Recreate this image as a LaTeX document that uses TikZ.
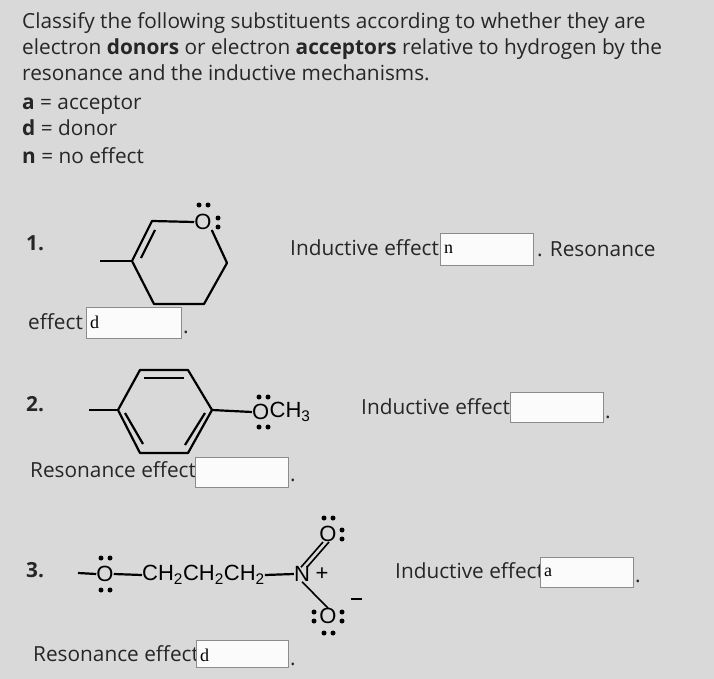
\documentclass[tikz,border=0pt]{standalone}
\usepackage{fontspec}
\usetikzlibrary{calc}
\setmainfont{Open Sans}
\newfontfamily\chemfont{Liberation Sans}
\newfontfamily\ansfont{Liberation Serif}
\begin{document}
\begin{tikzpicture}[x=1pt,y=-1pt,
  txt/.style={anchor=base west,inner sep=0pt,font=\fontsize{20.8}{24}\selectfont,text=black!85},
  chem/.style={inner sep=0pt,font=\chemfont\fontsize{22}{24}\selectfont},
  ansbox/.style={draw=black!45,line width=1.2pt,fill=white!85!black!10,inner sep=0pt},
  bond/.style={line width=2.2pt},
  lp/.style={fill=black,circle,inner sep=0pt,minimum size=5pt}]
\fill[black!15] (0,0) rectangle (714,679);
\useasboundingbox (0,0) rectangle (714,679);
\node[txt] (l1) at (22,29) {Classify the following substituents according to whether they are};
\node[txt] (l2) at (22,55) {electron \textbf{donors} or electron \textbf{acceptors} relative to hydrogen by the};
\node[txt] (l3) at (22,81) {resonance and the inductive mechanisms.};
\node[txt] (ka) at (22,110) {\textbf{a} = acceptor};
\node[txt] (kd) at (22,136) {\textbf{d} = donor};
\node[txt] (kn) at (22,164) {\textbf{n} = no effect};
% item 1
\node[txt] (n1) at (26,250) {\textbf{1.}};
\coordinate (a1) at (152,221); \coordinate (a2) at (132,261); \coordinate (a3) at (154,304);
\coordinate (a4) at (204,304); \coordinate (a5) at (227,263);
\node[chem] (o1) at (203,222) {O};
\coordinate (m1) at (100,261);
\draw[bond,line join=round] (o1.west) -- (a1) -- (a2) -- (a3) -- (a4) -- (a5) -- (o1.south east);
\draw[bond] (m1) -- (a2);
\draw[bond] ($(a1)!0.15!(a2)+(6,3)$) -- ($(a1)!0.85!(a2)+(6,3)$);
\node[lp] at (199,205) {}; \node[lp] at (208,205) {};
\node[lp] at (218,218) {}; \node[lp] at (218,227) {};
\node[txt] (ie1) at (290,255) {Inductive effect};
\node[ansbox,minimum width=93pt,minimum height=32pt,anchor=north west] (b1) at (440,233) {};
\node[anchor=west,font=\ansfont\fontsize{18}{20}\selectfont,inner sep=0pt] at (444,249) {n};
\node[txt] (res1) at (537,256) {. Resonance};
\node[txt] (ef1) at (28,329) {effect};
\node[ansbox,minimum width=95pt,minimum height=31pt,anchor=north west] (b2) at (86,307) {};
\node[anchor=west,font=\ansfont\fontsize{18}{20}\selectfont,inner sep=0pt] at (90,322) {d};
\node[txt] at (183,333) {.};
% item 2
\node[txt] (n2) at (26,411) {\textbf{2.}};
\coordinate (c1) at (140,370); \coordinate (c2) at (188,370); \coordinate (c3) at (212,410);
\coordinate (c4) at (188,453); \coordinate (c5) at (140,453); \coordinate (c6) at (118,410);
\draw[bond,line join=round] (c1)--(c2)--(c3)--(c4)--(c5)--(c6)--cycle;
\draw[bond] (144,378) -- (184,378);
\draw[bond] (125,413) -- (143,444);
\draw[bond] (205,413) -- (185,445);
\coordinate (m2) at (89,410);
\draw[bond] (m2) -- (c6);
\node[chem,anchor=west] (och) at (252,412) {O};
\node[chem,anchor=west] at (och.east) {CH\textsubscript{3}};
\draw[bond] (c3) -- (och.west);
\node[lp] at (259,397) {}; \node[lp] at (268,397) {};
\node[lp] at (259,427) {}; \node[lp] at (268,427) {};
\node[txt] (ie2) at (361,414) {Inductive effect};
\node[ansbox,minimum width=93pt,minimum height=30pt,anchor=north west] (b3) at (510,392) {};
\node[txt] at (605,418) {.};
\node[txt] (re2) at (30,477) {Resonance effect};
\node[ansbox,minimum width=93pt,minimum height=30pt,anchor=north west] (b4) at (195,457) {};
\node[txt] at (290,481) {.};
% item 3
\node[txt] (n3) at (26,577) {\textbf{3.}};
\node[chem] (o3) at (105,574) {O};
\coordinate (d3) at (78,573);
\draw[bond] (d3) -- (o3.west);
\node[lp] at (101,558) {}; \node[lp] at (110,558) {};
\node[lp] at (101,590) {}; \node[lp] at (110,590) {};
\node[chem,anchor=west] (ch) at (142,575) {CH\textsubscript{2}CH\textsubscript{2}CH\textsubscript{2}};
\node[chem] (nn) at (302,574) {N};
\node[chem] at (322,574) {+};
\draw[bond] (o3.east) -- (ch.west);
\draw[bond] (ch.east) -- (nn.west);
\node[chem] (ou) at (328,534) {O};
\draw[line width=1.6pt] ($(nn.north)+(-1,1)$) -- ($(ou.south)+(-5,0)$);
\draw[line width=1.6pt] ($(nn.north)+(5,1)$) -- ($(ou.south)+(1,0)$);
\node[lp] at (324,518) {}; \node[lp] at (333,518) {};
\node[lp] at (342,530) {}; \node[lp] at (342,539) {};
\node[chem] (od) at (328,616) {O};
\draw[line width=1.6pt] (nn.south) -- (od.north);
\node[lp] at (314,612) {}; \node[lp] at (314,621) {};
\node[lp] at (342,612) {}; \node[lp] at (342,621) {};
\node[lp] at (324,633) {}; \node[lp] at (333,633) {};
\draw[line width=1.6pt] (351,599) -- (362,599);
\node[txt] (ie3) at (395,578) {Inductive effect};
\node[ansbox,minimum width=93pt,minimum height=30pt,anchor=north west] (b5) at (540,557) {};
\node[anchor=west,font=\ansfont\fontsize{18}{20}\selectfont,inner sep=0pt] at (544,572) {a};
\node[txt] at (635,582) {.};
\node[txt] (re3) at (33,661) {Resonance effect};
\node[ansbox,minimum width=92pt,minimum height=27pt,anchor=north west] (b6) at (196,640) {};
\node[anchor=west,font=\ansfont\fontsize{18}{20}\selectfont,inner sep=0pt] at (200,655) {d};
\node[txt] at (290,665) {.};
\end{tikzpicture}
\end{document}
